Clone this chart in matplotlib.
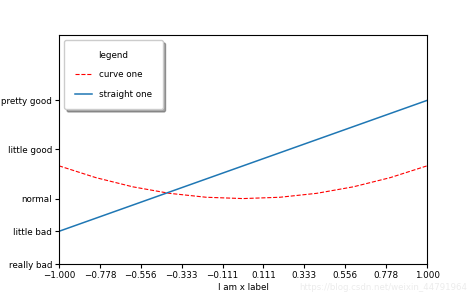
import matplotlib
matplotlib.use('Agg')
import matplotlib.pyplot as plt

# datos
curve_x = [-1.0, -0.8, -0.6, -0.4, -0.2, 0.0, 0.2, 0.4, 0.6, 0.8, 1.0]
curve_y = [1.0, 0.64, 0.36, 0.16, 0.04, 0.0, 0.04, 0.16, 0.36, 0.64, 1.0]
line_x = [-1.0, 1.0]
line_y = [-1.0, 3.0]

x_ticks = [-1.0, -0.778, -0.556, -0.333, -0.111, 0.111, 0.333, 0.556, 0.778, 1.0]
y_ticks = [-2, -1, 0, 1.5, 3]
y_labels = ['really bad', 'little bad', 'normal', 'little good', 'pretty good']

plt.rcParams['font.size'] = 6.3

fig = plt.figure(figsize=(4.74, 2.96), dpi=100)
fig.subplots_adjust(left=0.1245, right=0.901, top=0.882, bottom=0.108)
ax = fig.add_subplot(111)

l1, = ax.plot(curve_x, curve_y, color='red', linewidth=0.8, linestyle='--', label='curve one')
l2, = ax.plot(line_x, line_y, linewidth=1.1, label='straight one')

ax.set_xlim(-1, 1)
ax.set_ylim(-2, 5)
ax.set_xticks(x_ticks)
ax.set_xticklabels([('%.3f' % v).replace('-', '\u2212') for v in x_ticks])
ax.set_yticks(y_ticks)
ax.set_yticklabels(y_labels)
ax.tick_params(length=2.6, pad=2.4)
ax.set_xlabel('I am x label', labelpad=2)

ax.legend(handles=[l1, l2], loc='upper left', title='legend', shadow=True,
          borderpad=1.2, labelspacing=1.2, handlelength=2.0, borderaxespad=0.6)

fig.text(0.985, 0.015, 'https://blog.csdn.net/weixin_44791964', ha='right', va='bottom',
         color='#ececec', fontsize=6.2)

fig.savefig('out.png', dpi=100)
